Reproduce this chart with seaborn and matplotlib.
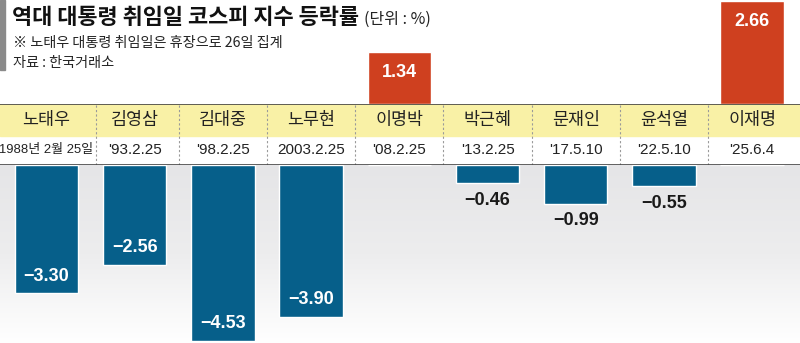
import numpy as np
import pandas as pd
import matplotlib
matplotlib.use("Agg")
import matplotlib.pyplot as plt
import seaborn as sns

# Presidents, inauguration dates and KOSPI change (%) on inauguration day
presidents = ["노태우", "김영삼", "김대중", "노무현", "이명박", "박근혜", "문재인", "윤석열", "이재명"]
dates = ["1988년 2월 25일", "'93.2.25", "'98.2.25", "2003.2.25", "'08.2.25",
         "'13.2.25", "'17.5.10", "'22.5.10", "'25.6.4"]
changes = [-3.30, -2.56, -4.53, -3.90, 1.34, -0.46, -0.99, -0.55, 2.66]

title = "역대 대통령 취임일 코스피 지수 등락률"
unit = "(단위 : %)"
note = "※ 노태우 대통령 취임일은 휴장으로 26일 집계"
source = "자료 : 한국거래소"

sns.set_theme(style="white")
FONT = ["Noto Sans CJK KR", "DejaVu Sans"]
NUM_FONT = ["Liberation Sans", "Noto Sans CJK KR", "DejaVu Sans"]
DATE_FONT = ["Liberation Sans", "Noto Sans CJK KR"]
plt.rcParams["font.family"] = FONT
plt.rcParams["axes.unicode_minus"] = True

BLUE = "#065f8a"
RED = "#cf401f"
YELLOW = "#f9f1a6"

W, H = 800, 343
fig = plt.figure(figsize=(W / 100, H / 100), dpi=100)
fig.patch.set_facecolor("white")

def px_box(x0, y0, x1, y1):
    """Figure-fraction rect from pixel coordinates (origin top-left)."""
    return [x0 / W, 1 - y1 / H, (x1 - x0) / W, (y1 - y0) / H]

PX_PER_UNIT = 38.9
n = len(presidents)
step = 88.2
c0 = 46.5
xlim = (-c0 / step, (W - c0) / step)

df = pd.DataFrame({"name": presidents, "date": dates, "change": changes})
df["pos"] = df["change"].clip(lower=0)
df["neg"] = df["change"].clip(upper=0)
palette = {p: (RED if v > 0 else BLUE) for p, v in zip(presidents, changes)}

# --- upper panel: gains ---
top_y0, top_y1 = 0, 104
ax_top = fig.add_axes(px_box(0, top_y0, W, top_y1))
sns.barplot(data=df, x="name", y="pos", hue="name", palette=palette, order=presidents,
            hue_order=presidents, legend=False, width=0.72, saturation=1, ax=ax_top)
ax_top.set_xlim(*xlim)
ax_top.set_ylim(0, (top_y1 - top_y0) / PX_PER_UNIT)
ax_top.axis("off")
for i, v in enumerate(changes):
    if v > 0:
        ax_top.annotate(f"{v:.2f}", (i, v), xytext=(0, -15), textcoords="offset points",
                        ha="center", va="center", color="white", fontsize=13,
                        fontweight="bold", family=NUM_FONT)

# --- lower panel: losses, on a soft grey gradient ---
bot_y0, bot_y1 = 165, H
ax_bot = fig.add_axes(px_box(0, bot_y0, W, bot_y1))
ylo = -(bot_y1 - bot_y0) / PX_PER_UNIT
grad = np.linspace(0, 1, 256).reshape(-1, 1)
ax_bot.imshow(grad, extent=(xlim[0], xlim[1], ylo, 0), aspect="auto",
              cmap=matplotlib.colors.LinearSegmentedColormap.from_list(
                  "bg", ["#e5e5e7", "#ededee", "#ffffff"]),
              origin="upper", zorder=0)
sns.barplot(data=df, x="name", y="neg", hue="name", palette=palette, order=presidents,
            hue_order=presidents, legend=False, width=0.72, saturation=1, ax=ax_bot)
for patch in ax_bot.patches:
    patch.set_zorder(2)
ax_bot.set_xlim(*xlim)
ax_bot.set_ylim(ylo, 0)
ax_bot.axis("off")
for i, v in enumerate(changes):
    if v < 0:
        label = f"−{abs(v):.2f}"
        inside = v < -1.5
        ax_bot.annotate(label, (i, v), xytext=(0, 12.5 if inside else -12.5),
                        textcoords="offset points", ha="center", va="center",
                        color="white" if inside else "#1a1a1a", fontsize=13,
                        fontweight="bold", family=NUM_FONT, zorder=3)

# --- header band with names and dates ---
ax_hdr = fig.add_axes(px_box(0, 104, W, 165))
ax_hdr.set_xlim(*xlim)
ax_hdr.set_ylim(0, 61)
ax_hdr.axis("off")
ax_hdr.axhspan(29, 61, color=YELLOW, zorder=0)
ax_hdr.axhline(61, color="#444444", lw=1.2, zorder=3)
ax_hdr.axhline(0.4, color="#444444", lw=1.2, zorder=3)
separators = [0.56] + [i + 0.5 for i in range(1, n - 1)]
for s in separators:
    ax_hdr.axvline(s, ymin=0, ymax=1, color="#9a9a9a", lw=0.8,
                   ls=(0, (2, 2)), zorder=2)
for i, (p, d) in enumerate(zip(presidents, dates)):
    ax_hdr.text(i, 45, p, ha="center", va="center", fontsize=12.5, color="#222222", family=FONT)
    ax_hdr.text(i, 15, d, ha="center", va="center", fontsize=9.4 if i == 0 else 11,
                color="#222222", family=DATE_FONT)

# --- title block ---
fig.patches.append(plt.Rectangle((0, 1 - 70 / H), 5 / W, 70 / H, transform=fig.transFigure,
                                 color="#8a8a8a", zorder=5))
t = fig.text(12 / W, 1 - 18 / H, title, ha="left", va="center", fontsize=15.8,
             fontweight="bold", color="#111111", family=FONT)
fig.canvas.draw()
bb = t.get_window_extent()
fig.text((bb.x1 + 5) / W, 1 - 19 / H, unit, ha="left", va="center", fontsize=11.5,
         color="#222222", family=FONT)
fig.text(13 / W, 1 - 43 / H, note, ha="left", va="center", fontsize=10.2,
         color="#222222", family=FONT)
fig.text(13 / W, 1 - 63 / H, source, ha="left", va="center", fontsize=10.2,
         color="#222222", family=FONT)

fig.savefig("out.png", dpi=100, facecolor="white")
